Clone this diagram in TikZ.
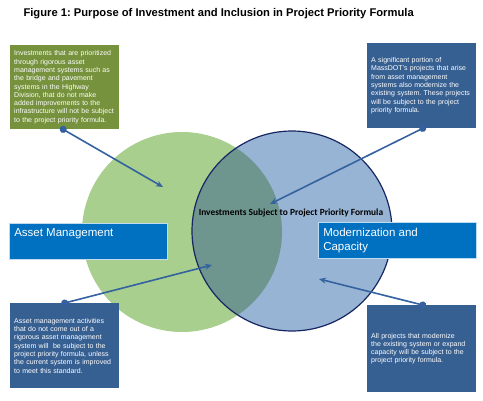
\documentclass[tikz,border=0pt]{standalone}
\usepackage{fontspec}
\setmainfont{Liberation Sans}
\newfontfamily\carlito{Carlito}
\usepackage{xcolor}
\usepackage{tikz}
\usetikzlibrary{arrows.meta}
\frenchspacing

\definecolor{amgreen}{RGB}{168,207,141}
\definecolor{mcblue}{RGB}{151,180,212}
\definecolor{bothteal}{RGB}{110,150,143}
\definecolor{rimnavy}{RGB}{22,38,98}
\definecolor{olivebox}{RGB}{118,146,60}
\definecolor{notebox}{RGB}{55,96,146}
\definecolor{labelblue}{RGB}{0,112,192}
\definecolor{pointerblue}{RGB}{52,98,160}

\tikzset{
	note/.style={anchor=north west, fill=notebox, text=white, inner xsep=4pt,
		minimum height=#1, align=left, text width=101pt,
		font=\fontsize{7}{8.3}\selectfont},
	label/.style={anchor=north west, fill=labelblue, draw=white!75!labelblue,
		line width=0.6pt, text=white, inner xsep=5pt, inner ysep=5.5pt,
		font=\fontsize{11.5}{14.5}\selectfont},
	pointer/.style={draw=pointerblue, line width=1.6pt, shorten <=-3.5pt,
		arrows={Circle[length=7pt,fill=pointerblue]-Stealth[length=7pt,width=6pt]}}
}

\begin{document}
\begin{tikzpicture}[x=1pt,y=-1pt]
	\useasboundingbox (0,0) rectangle (483,400);

	\node[anchor=base west, font=\bfseries\fontsize{11.2}{13}\selectfont] (title) at (20,16.7)
		{Figure 1: Purpose of Investment and Inclusion in Project Priority Formula};

	\fill[amgreen] (182,232) circle (100);
	\fill[mcblue] (292,231) circle (100);
	\begin{scope}
		\clip (182,232) circle (100);
		\fill[bothteal] (292,231) circle (100);
	\end{scope}
	\draw[rimnavy, line width=1.2pt] (292,231) circle (100);

	\node[label] (am) at (9,223) {\parbox[t][25pt][t]{148pt}{Asset Management}};
	\node[label] (mc) at (318,222) {\parbox[t][25pt][t]{148pt}{Modernization and\\Capacity}};

	\node[font=\carlito\bfseries\fontsize{9.4}{11}\selectfont] (both) at (291,213)
		{Investments Subject to Project Priority Formula};

	\node[note=84pt, fill=olivebox] (tl) at (10,45)
		{Investments that are prioritized\\through rigorous asset\\management systems such as\\the bridge and pavement\\systems in the Highway\\Division, that do not make\\added improvements to the\\infrastructure will not be subject\\to the project priority formula.};
	\node[note=85pt] (tr) at (367,43)
		{A significant portion of\\MassDOT's projects that arise\\from asset management\\systems also modernize the\\existing system. These projects\\will be subject to the project\\priority formula.};
	\node[note=85pt] (bl) at (10,303)
		{Asset management activities\\that do not come out of a\\rigorous asset management\\system will\ \ be subject to the\\project priority formula, unless\\the current system is improved\\to meet this standard.};
	\node[note=87pt] (br) at (367,305)
		{All projects that modernize\\the existing system or expand\\capacity will be subject to the\\project priority formula.};

	\coordinate (tltip) at (163,187);
	\coordinate (trtip) at (270,204);
	\coordinate (bltip) at (212,265);
	\coordinate (brtip) at (319,279);

	\draw[pointer] ([xshift=-1.5pt]tl.south) -- (tltip);
	\draw[pointer] ([xshift=1pt]tr.south) -- (trtip);
	\draw[pointer] (bl.north) -- (bltip);
	\draw[pointer] ([xshift=1pt]br.north) -- (brtip);
\end{tikzpicture}
\end{document}
